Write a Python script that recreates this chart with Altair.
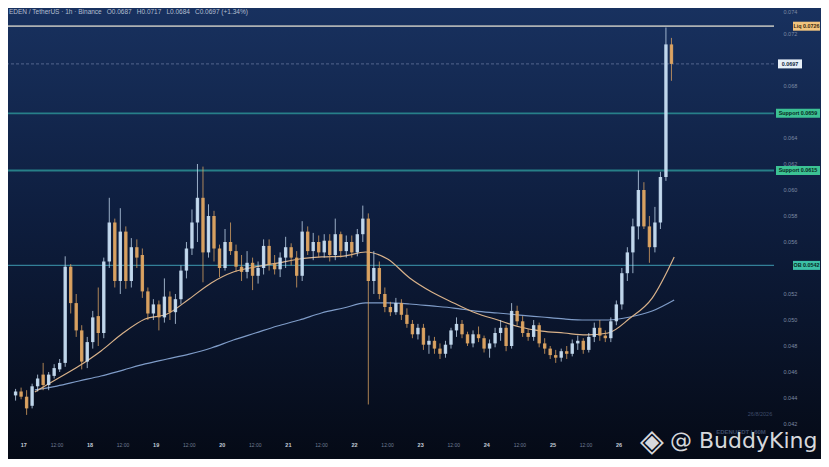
import altair as alt
import pandas as pd

# EDEN/USDT, candles (2h buckets), hours counted from the 17th 00:00
hours = list(range(-3, 237, 2))

opens = [0.0442, 0.0445, 0.0441, 0.0434, 0.0449, 0.0458, 0.0450, 0.0457, 0.0462, 0.0467,
         0.0541, 0.0513, 0.0492, 0.0468, 0.0483, 0.0503, 0.0490, 0.0545, 0.0575, 0.0530,
         0.0568, 0.0530, 0.0556, 0.0550, 0.0522, 0.0505, 0.0512, 0.0502, 0.0518, 0.0506,
         0.0516, 0.0538, 0.0555, 0.0575, 0.0594, 0.0552, 0.0580, 0.0555, 0.0540, 0.0560,
         0.0553, 0.0541, 0.0537, 0.0544, 0.0534, 0.0540, 0.0557, 0.0543, 0.0539, 0.0548,
         0.0556, 0.0548, 0.0534, 0.0568, 0.0553, 0.0560, 0.0552, 0.0561, 0.0550, 0.0566,
         0.0553, 0.0560, 0.0552, 0.0566, 0.0578, 0.0530, 0.0540, 0.0520, 0.0510, 0.0506,
         0.0513, 0.0504, 0.0497, 0.0489, 0.0494, 0.0481, 0.0484, 0.0478, 0.0474, 0.0481,
         0.0492, 0.0497, 0.0489, 0.0482, 0.0489, 0.0486, 0.0478, 0.0482, 0.0490, 0.0494,
         0.0480, 0.0507, 0.0499, 0.0490, 0.0487, 0.0496, 0.0482, 0.0478, 0.0473, 0.0471,
         0.0476, 0.0474, 0.0482, 0.0484, 0.0477, 0.0487, 0.0494, 0.0488, 0.0486, 0.0499,
         0.0512, 0.0536, 0.0552, 0.0572, 0.0600, 0.0572, 0.0556, 0.0575, 0.0610, 0.0712]
highs = [0.0447, 0.0448, 0.0446, 0.0451, 0.0458, 0.0467, 0.0460, 0.0466, 0.0470, 0.0549,
         0.0543, 0.0520, 0.0496, 0.0487, 0.0507, 0.0525, 0.0548, 0.0594, 0.0578, 0.0586,
         0.0572, 0.0563, 0.0562, 0.0555, 0.0525, 0.0516, 0.0515, 0.0532, 0.0522, 0.0520,
         0.0542, 0.0560, 0.0585, 0.0620, 0.0618, 0.0589, 0.0584, 0.0558, 0.0570, 0.0575,
         0.0558, 0.0550, 0.0553, 0.0548, 0.0545, 0.0562, 0.0562, 0.0550, 0.0552, 0.0564,
         0.0559, 0.0553, 0.0576, 0.0572, 0.0567, 0.0565, 0.0566, 0.0566, 0.0578, 0.0568,
         0.0565, 0.0565, 0.0570, 0.0588, 0.0582, 0.0553, 0.0545, 0.0525, 0.0514, 0.0517,
         0.0516, 0.0509, 0.0500, 0.0497, 0.0497, 0.0488, 0.0487, 0.0482, 0.0484, 0.0494,
         0.0502, 0.0500, 0.0491, 0.0492, 0.0495, 0.0488, 0.0485, 0.0494, 0.0500, 0.0496,
         0.0513, 0.0511, 0.0503, 0.0493, 0.0500, 0.0498, 0.0486, 0.0480, 0.0477, 0.0478,
         0.0480, 0.0485, 0.0488, 0.0486, 0.0490, 0.0498, 0.0500, 0.0492, 0.0502, 0.0515,
         0.0540, 0.0556, 0.0578, 0.0615, 0.0606, 0.0580, 0.0587, 0.0614, 0.0725, 0.0717]
lows = [0.0438, 0.0439, 0.0427, 0.0432, 0.0445, 0.0446, 0.0446, 0.0455, 0.0460, 0.0464,
        0.0505, 0.0487, 0.0462, 0.0463, 0.0478, 0.0480, 0.0486, 0.0540, 0.0525, 0.0520,
        0.0524, 0.0525, 0.0540, 0.0517, 0.0500, 0.0500, 0.0492, 0.0498, 0.0500, 0.0497,
        0.0512, 0.0532, 0.0550, 0.0560, 0.0529, 0.0548, 0.0545, 0.0533, 0.0538, 0.0550,
        0.0537, 0.0530, 0.0532, 0.0523, 0.0528, 0.0535, 0.0538, 0.0535, 0.0533, 0.0540,
        0.0542, 0.0525, 0.0530, 0.0550, 0.0546, 0.0548, 0.0548, 0.0545, 0.0546, 0.0548,
        0.0548, 0.0548, 0.0549, 0.0560, 0.0435, 0.0520, 0.0516, 0.0506, 0.0503, 0.0504,
        0.0500, 0.0494, 0.0486, 0.0485, 0.0477, 0.0474, 0.0474, 0.0470, 0.0471, 0.0478,
        0.0487, 0.0486, 0.0480, 0.0479, 0.0483, 0.0475, 0.0471, 0.0479, 0.0484, 0.0476,
        0.0478, 0.0496, 0.0487, 0.0484, 0.0484, 0.0479, 0.0474, 0.0470, 0.0467, 0.0468,
        0.0470, 0.0472, 0.0477, 0.0474, 0.0475, 0.0483, 0.0484, 0.0483, 0.0483, 0.0496,
        0.0508, 0.0530, 0.0536, 0.0562, 0.0570, 0.0544, 0.0552, 0.0570, 0.0607, 0.0684]
closes = [0.0445, 0.0441, 0.0432, 0.0449, 0.0455, 0.0450, 0.0458, 0.0463, 0.0467, 0.0541,
          0.0513, 0.0492, 0.0468, 0.0483, 0.0502, 0.0490, 0.0545, 0.0575, 0.0530, 0.0568,
          0.0530, 0.0556, 0.0548, 0.0522, 0.0505, 0.0512, 0.0502, 0.0518, 0.0506, 0.0516,
          0.0538, 0.0555, 0.0575, 0.0594, 0.0552, 0.0580, 0.0555, 0.0540, 0.0560, 0.0553,
          0.0541, 0.0537, 0.0544, 0.0534, 0.0540, 0.0557, 0.0543, 0.0539, 0.0548, 0.0556,
          0.0548, 0.0534, 0.0568, 0.0553, 0.0560, 0.0552, 0.0561, 0.0550, 0.0566, 0.0553,
          0.0560, 0.0552, 0.0566, 0.0578, 0.0530, 0.0540, 0.0520, 0.0510, 0.0506, 0.0513,
          0.0504, 0.0497, 0.0489, 0.0494, 0.0481, 0.0484, 0.0478, 0.0474, 0.0481, 0.0492,
          0.0497, 0.0489, 0.0482, 0.0489, 0.0486, 0.0478, 0.0482, 0.0490, 0.0494, 0.0480,
          0.0507, 0.0499, 0.0490, 0.0487, 0.0496, 0.0482, 0.0478, 0.0473, 0.0471, 0.0476,
          0.0474, 0.0482, 0.0484, 0.0477, 0.0487, 0.0494, 0.0488, 0.0486, 0.0499, 0.0512,
          0.0536, 0.0552, 0.0572, 0.0600, 0.0572, 0.0556, 0.0575, 0.0610, 0.0712, 0.0697]

# moving averages, sampled every 8h
ma_hours = [4, 12, 20, 28, 36, 44, 52, 60, 68, 76, 84, 92, 100, 108, 116,
            124, 132, 140, 148, 156, 164, 172, 180, 188, 196, 204, 212, 220, 228, 236]
ma_fast = [0.04446, 0.04546, 0.04646, 0.04762, 0.04900, 0.05008, 0.05046, 0.05162, 0.05285, 0.05369,
           0.05408, 0.05438, 0.05469, 0.05485, 0.05492, 0.05523, 0.05469, 0.05323, 0.05215, 0.05131,
           0.05054, 0.05000, 0.04946, 0.04915, 0.04900, 0.04885, 0.04900, 0.05015, 0.05169, 0.05485]
ma_slow = [0.04462, 0.04492, 0.04531, 0.04569, 0.04615, 0.04662, 0.04700, 0.04738, 0.04785, 0.04846,
           0.04900, 0.04954, 0.05000, 0.05054, 0.05092, 0.05131, 0.05131, 0.05123, 0.05108, 0.05092,
           0.05069, 0.05054, 0.05038, 0.05023, 0.05008, 0.05000, 0.05000, 0.05023, 0.05069, 0.05154]

level_prices = [0.0726, 0.0697, 0.0659, 0.0615, 0.0542]
level_labels = ["Liq 0.0726", "0.0697", "Support 0.0659", "Support 0.0615", "OB 0.0542"]

tick_hours = [0, 12, 24, 36, 48, 60, 72, 84, 96, 108, 120, 132, 144, 156, 168, 180, 192, 204, 216]
tick_labels = ["17", "12:00", "18", "12:00", "19", "12:00", "20", "12:00", "21", "12:00",
               "22", "12:00", "23", "12:00", "24", "12:00", "25", "12:00", "26"]
# 0.054, 0.066 and 0.070 sit under the level tags in the screenshot
y_ticks = [0.042, 0.044, 0.046, 0.048, 0.050, 0.052, 0.056, 0.058,
           0.060, 0.062, 0.064, 0.068, 0.072, 0.074]

header = "EDEN / TetherUS \u00b7 1h \u00b7 Binance\u2002 O0.0687\u2002 H0.0717\u2002 L0.0684\u2002 C0.0697 (+1.34%)"

W, H = 766, 430
xs = alt.Scale(domain=[-3.94, 270.4], nice=False, zero=False)
ys = alt.Scale(domain=[0.040923, 0.074], nice=False, zero=False)
yaxis = alt.Axis(orient="right", values=y_ticks, format=".3f", labelColor="#7d8aa3", labelFontSize=5.5,
                 labelFont="Liberation Sans", labelPadding=9, domain=False, ticks=False, grid=False,
                 zindex=1, labelBound=False, labelFlush=False,
                 labelOffset={"condition": {"test": "datum.value > 0.0735", "value": 3}, "value": 0})

def X(f):
    return alt.X(f, type="quantitative", scale=xs, axis=None)

def Y(f):
    return alt.Y(f, type="quantitative", scale=ys, axis=yaxis, title=None)

one = pd.DataFrame({"k": [0]})

# background gradient over the whole svg
bg = alt.Chart(one).mark_rect(color=alt.LinearGradient(
    gradient="linear", x1=0, x2=0, y1=0, y2=1,
    stops=[alt.GradientStop(offset=0, color="#18315f"),
           alt.GradientStop(offset=0.45, color="#0e1e3f"),
           alt.GradientStop(offset=1, color="#050a16")])
).encode(x=alt.value(0), x2=alt.value(813), y=alt.value(0), y2=alt.value(451))

levels = pd.DataFrame({"p": level_prices, "label": level_labels})
line_style = [("#c8c8c2", 1.8, [1, 0]), ("#5d7096", 1, [3, 2]), ("#2b8f94", 1.8, [1, 0]),
              ("#2b8f94", 1.8, [1, 0]), ("#3b93a8", 1.4, [1, 0])]
tag_style = [(798.5, 27, "#f2c47e", "#3b2a12"), (782, 24, "#e8f0f8", "#0d1f3c"),
             (790, 44, "#3cc294", "#08281e"), (790, 44, "#3cc294", "#08281e"),
             (798.5, 27, "#3cc0a6", "#08281e")]

rules = []
tags = []
for i in range(len(level_prices)):
    sub = alt.Chart(levels).transform_filter(alt.datum.label == level_labels[i])
    col, sw, dash = line_style[i]
    rules.append(sub.mark_rule(color=col, strokeWidth=sw, strokeDash=dash, opacity=0.85).encode(y=Y("p")))
    cx, w, fill, ink = tag_style[i]
    tags.append(sub.mark_tick(orient="horizontal", size=w, thickness=9, color=fill, opacity=1).encode(
        x=alt.value(cx), y=Y("p")))
    tags.append(sub.mark_text(font="Liberation Sans", fontSize=5.4, fontWeight="bold", color=ink).encode(
        x=alt.value(cx), y=Y("p"), text="label"))

ma = pd.DataFrame({"h": ma_hours, "fast": ma_fast, "slow": ma_slow})
slow_line = alt.Chart(ma).mark_line(color="#7f9cc8", strokeWidth=1.2, interpolate="monotone").encode(x=X("h"), y=Y("slow"))
fast_line = alt.Chart(ma).mark_line(color="#d9b28a", strokeWidth=1.2, interpolate="monotone").encode(x=X("h"), y=Y("fast"))

candles = pd.DataFrame({"h": hours, "o": opens, "hi": highs, "lo": lows, "c": closes})
up = alt.condition("datum.c >= datum.o", alt.value("#c9dff4"), alt.value("#e2a763"))
wicks = alt.Chart(candles).mark_rule(strokeWidth=1, opacity=0.75).encode(x=X("h"), y=Y("lo"), y2="hi", color=up)
bodies = alt.Chart(candles).mark_bar(size=3.4, opacity=0.92).encode(x=X("h"), y=Y("o"), y2="c", color=up)

# x labels along the bottom
xlab = pd.DataFrame({"h": tick_hours, "t": tick_labels})
days = alt.Chart(xlab).transform_filter("datum.t != '12:00'").mark_text(
    font="Liberation Sans", fontSize=5.5, fontWeight="bold", color="#c3cbd8").encode(x=X("h"), y=alt.value(437), text="t")
halfs = alt.Chart(xlab).transform_filter("datum.t == '12:00'").mark_text(
    font="Liberation Sans", fontSize=5, color="#6f7d94").encode(x=X("h"), y=alt.value(437), text="t")

head = alt.Chart(pd.DataFrame({"t": [header]})).mark_text(
    align="left", baseline="middle", font="Liberation Sans", fontSize=6.5, color="#b4bfd0"
).encode(x=alt.value(1), y=alt.value(4), text="t")

stamp = alt.Chart(pd.DataFrame({"t": ["26/8/2026"]})).mark_text(
    font="Liberation Sans", fontSize=5.5, color="#3d4b69").encode(x=alt.value(752), y=alt.value(406), text="t")
pair = alt.Chart(pd.DataFrame({"t": ["EDENUSDT | 60M"]})).mark_text(
    font="Liberation Sans", fontSize=6, fontWeight="bold", color="#3b4a68").encode(x=alt.value(733), y=alt.value(424), text="t")
logo = alt.Chart(pd.DataFrame({"t": ["\u25c8"]})).mark_text(
    font="DejaVu Sans", fontSize=31, color="#d6d8dc").encode(x=alt.value(644), y=alt.value(434), text="t")
mark = alt.Chart(pd.DataFrame({"t": ["@ BuddyKing"]})).mark_text(
    align="left", baseline="middle", font="DejaVu Sans", fontSize=22, color="#d6d8dc"
).encode(x=alt.value(662), y=alt.value(433), text="t")

chart = alt.layer(
    bg, *rules, slow_line, fast_line, wicks, bodies, *tags, days, halfs, head, stamp, pair, logo, mark
).properties(
    width=W, height=H, background="#0a1530",
    autosize=alt.AutoSizeParams(type="none"),
    padding={"left": 0, "top": 0, "right": 47, "bottom": 21},
).configure_view(stroke=None)

chart.save("out.html", embed_options={"renderer": "svg", "actions": False})
